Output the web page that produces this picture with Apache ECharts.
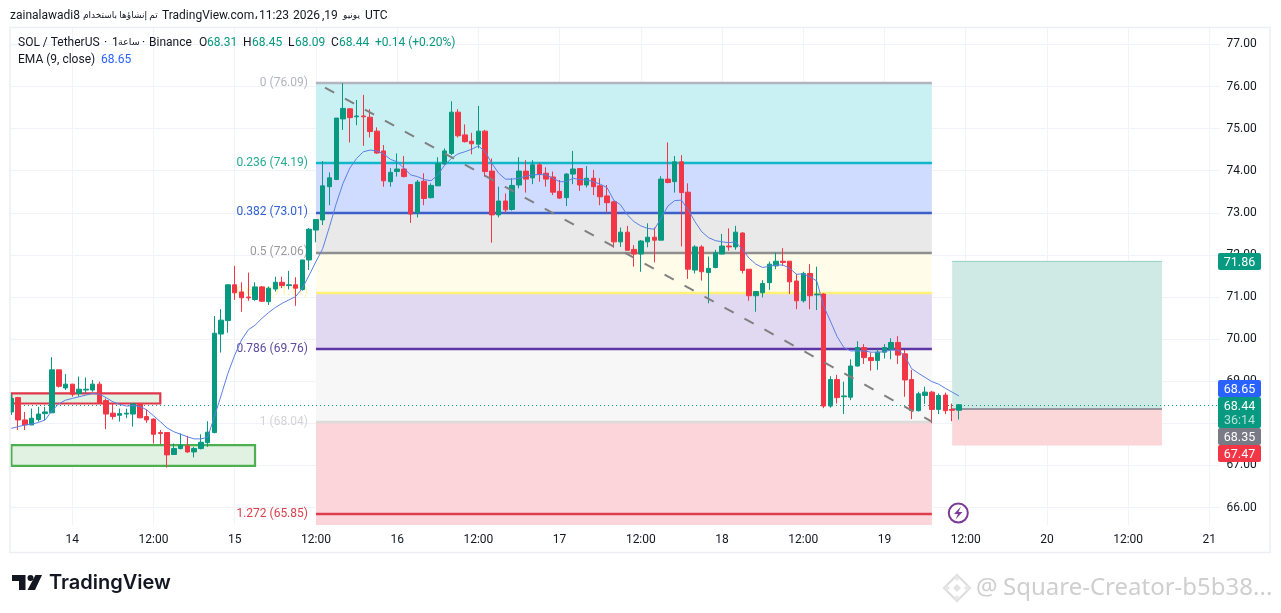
<!DOCTYPE html>
<html><head><meta charset="utf-8">
<style>html,body{margin:0;padding:0;background:#fff}#c{width:1281px;height:613px}</style>
<script src="https://cdn.jsdelivr.net/npm/echarts@6/dist/echarts.min.js"></script>
</head><body><div id="c"></div>
<script>
const opens=[68.27,68.61,68.08,67.96,68.09,68.23,68.25,69.27,68.84,68.93,
68.71,68.79,68.79,68.93,68.54,68.24,68.19,68.22,68.22,68.47,
68.16,68.10,67.78,67.78,67.26,67.40,67.46,67.32,67.40,67.54,
67.78,70.12,70.44,71.29,71.12,71.00,70.94,71.24,70.89,71.19,
71.35,71.27,71.29,71.18,71.88,72.59,72.83,73.62,73.79,75.23,
75.47,75.28,75.30,75.27,74.94,74.47,73.74,73.98,74.04,73.67,
73.01,73.75,73.36,73.64,74.16,74.41,75.39,74.85,74.70,74.63,
74.94,73.99,72.95,73.28,73.08,73.66,73.99,73.83,74.14,73.94,
73.85,73.51,73.36,73.92,74.05,73.66,73.82,73.64,73.40,73.26,
72.31,72.54,72.13,72.02,72.31,72.42,72.35,73.80,73.74,74.21,
73.49,71.64,72.19,71.58,71.70,72.02,72.21,72.19,72.52,71.66,
71.03,71.10,71.34,71.74,71.85,71.85,71.38,70.91,71.56,71.05,
71.07,68.41,69.04,68.63,68.62,69.36,69.80,69.56,69.49,69.69,
69.76,69.92,69.65,69.04,68.30,68.66,68.74,68.33,68.67,68.33,
68.31];
const closes=[68.59,68.08,67.96,68.12,68.22,68.27,69.27,68.88,68.93,68.69,
68.81,68.81,68.93,68.47,68.22,68.16,68.23,68.24,68.46,68.13,
68.08,67.74,67.76,67.25,67.40,67.48,67.32,67.40,67.55,67.79,
70.14,70.45,71.29,71.10,70.98,70.98,71.24,70.90,71.21,71.35,
71.27,71.29,71.21,71.88,72.61,72.84,73.64,73.83,75.25,75.48,
75.26,75.30,75.28,74.93,74.42,73.76,73.96,74.04,73.86,72.97,
73.73,73.34,73.65,74.17,74.47,75.39,74.83,74.69,74.64,74.94,
73.98,72.95,73.28,73.07,73.65,73.99,73.80,74.14,73.92,73.80,
73.49,73.35,73.92,74.04,73.66,73.82,73.62,73.38,73.24,72.31,
72.54,72.11,72.02,72.33,72.42,72.35,73.80,73.72,74.21,73.48,
71.66,72.19,71.60,71.68,72.05,72.21,72.19,72.54,71.63,71.03,
71.13,71.32,71.78,71.85,71.82,71.36,70.91,71.56,71.03,71.07,
68.41,69.04,68.61,68.65,69.36,69.80,69.56,69.49,69.69,69.80,
69.92,69.62,69.03,68.30,68.70,68.74,68.33,68.66,68.30,68.31,
68.44];
const highs=[68.71,68.63,68.27,68.35,68.39,68.39,69.57,69.27,69.17,68.93,
69.11,69.09,69.03,68.99,68.59,68.47,68.35,68.35,68.47,68.47,
68.33,68.12,67.84,67.78,67.52,67.76,67.70,67.44,67.74,68.05,
70.55,70.71,71.29,71.74,71.35,71.58,71.35,71.26,71.25,71.48,
71.48,71.62,71.47,71.88,72.64,72.84,74.23,73.96,75.25,76.08,
75.48,75.68,75.80,75.46,75.03,74.61,74.06,74.41,74.35,73.67,
73.78,73.94,73.70,74.32,74.53,75.65,75.46,75.10,74.90,75.54,
74.97,74.29,73.62,73.46,73.82,74.32,74.25,74.25,74.19,74.08,
73.98,73.78,73.94,74.47,74.06,74.11,74.02,73.82,73.66,73.29,
72.65,72.69,72.23,72.35,72.75,72.65,73.87,74.67,74.35,74.37,
73.70,72.23,72.23,71.96,72.12,72.50,72.63,72.69,72.54,71.66,
71.13,71.40,71.84,72.06,72.16,71.85,71.55,71.60,71.78,71.72,
71.09,69.12,69.15,68.99,69.52,69.95,69.88,69.68,69.76,69.88,
70.02,70.07,69.74,69.27,68.75,68.87,68.77,68.71,68.73,68.47,
68.45];
const lows=[68.20,67.84,67.84,67.96,68.04,68.08,68.24,68.85,68.79,68.63,
68.63,68.71,68.75,68.46,67.86,68.09,68.04,68.12,67.92,68.12,
68.01,67.52,67.51,66.95,67.25,67.38,67.30,67.19,67.38,67.44,
67.76,69.68,70.15,70.93,70.65,70.91,70.91,70.88,70.81,71.13,
71.21,71.18,70.79,71.15,71.64,72.30,72.71,73.18,73.78,74.97,
74.67,75.08,74.59,74.79,74.40,73.62,73.62,73.86,73.84,72.76,
72.89,73.18,73.34,73.64,74.14,74.37,74.79,74.67,74.39,74.53,
73.86,72.29,72.89,73.00,73.05,73.58,73.48,73.68,73.74,73.62,
73.42,73.33,73.16,73.68,73.52,73.60,73.42,73.18,73.00,72.17,
72.19,72.10,71.72,71.60,72.18,71.82,72.35,73.70,73.48,72.20,
71.43,71.56,71.39,70.85,71.68,72.02,72.10,72.12,71.56,70.91,
70.65,70.99,71.17,71.66,71.74,71.07,70.71,70.87,70.71,70.69,
68.36,68.37,68.47,68.22,68.55,69.35,69.41,69.25,69.27,69.54,
69.52,69.41,68.63,68.10,68.28,68.46,68.00,68.22,68.22,68.05,
68.09];
const ema9=[67.88,67.92,67.96,67.98,68.02,68.08,68.30,68.46,68.55,68.59,
68.63,68.67,68.71,68.69,68.61,68.51,68.45,68.41,68.42,68.40,
68.32,68.18,68.04,67.89,67.80,67.74,67.68,67.63,67.63,67.67,
68.16,68.67,69.19,69.62,69.98,70.22,70.33,70.49,70.63,70.75,
70.85,70.93,71.01,71.21,71.52,71.84,72.15,72.67,73.22,73.70,
74.06,74.29,74.45,74.49,74.47,74.40,74.27,74.21,74.06,73.90,
73.86,73.79,73.76,73.90,74.13,74.29,74.40,74.45,74.51,74.59,
74.45,74.17,73.94,73.80,73.80,73.82,73.87,73.90,73.91,73.90,
73.82,73.74,73.74,73.82,73.79,73.78,73.74,73.68,73.60,73.30,
73.19,72.95,72.79,72.69,72.63,72.61,72.87,73.16,73.29,73.30,
73.07,72.79,72.55,72.41,72.34,72.31,72.29,72.31,72.13,71.92,
71.78,71.70,71.73,71.76,71.76,71.68,71.54,71.55,71.48,71.38,
70.79,70.43,70.06,69.80,69.72,69.72,69.72,69.69,69.69,69.70,
69.74,69.74,69.60,69.30,69.19,69.09,68.99,68.93,68.83,68.74,
68.65];
const categoryCount=179, firstHour=15;
const categories=[];
for(let i=0,d=13,h=firstHour;i<categoryCount;i++){categories.push(h===0?String(d):(h===12?'12:00':''));h++;if(h===24){h=0;d++;}}
const isTick=(i)=>i>=9&&(i-9)%12===0;
const fibLevels=[
 {r:'0',v:76.09,line:'#b2b5be',text:'#b2b5be',fill:'#c9f1f3'},
 {r:'0.236',v:74.19,line:'#11b7c9',text:'#22ab94',fill:'#cfdcff'},
 {r:'0.382',v:73.01,line:'#3f5fc8',text:'#2f5fd0',fill:'#e9e9e9'},
 {r:'0.5',v:72.06,line:'#8f8f8f',text:'#9a9a9a',fill:'#fffde9'},
 {r:'0.618',v:71.11,line:'#fff176',text:'#fff59d',fill:'#e1d9f2'},
 {r:'0.786',v:69.76,line:'#5e35a5',text:'#5e4a9e',fill:'#f7f7f7'},
 {r:'1',v:68.04,line:'#dcdcdc',text:'#d4d4d4',fill:'#fbd5da'},
 {r:'1.272',v:65.85,line:'#dd3c4a',text:'#d8404c',fill:'#fbd5da'}];
const fibFrom=45, fibTo=136, plotMin=65.585, plotMax=77.39, axisMin=65, axisMax=78;
const up='#089981', down='#f23645';
const FONT='Roboto,"Noto Sans","DejaVu Sans",sans-serif';
function area(i0,v0,i1,v1,color,border,bw){return [{coord:[i0,v0],itemStyle:{color:color,borderColor:border||'transparent',borderWidth:bw||0,opacity:1}},{coord:[i1,v1]}];}
const fibAreas=[];
fibLevels.forEach((l,k)=>{const next=k<fibLevels.length-1?fibLevels[k+1].v:plotMin;fibAreas.push(area(fibFrom,l.v,fibTo,next,l.fill));});
const boxes=[area(0,68.71,22,68.47,'#e1f2e3','#e0364a',2.2),area(0,67.48,36,66.99,'#e1f2e3','#4caf50',2.2),
 area(139,71.86,170,68.35,'#cfe9e4'),area(139,68.35,170,67.47,'#fbd7da')];
const fibLines=fibLevels.map(l=>[{coord:[fibFrom,l.v],lineStyle:{color:l.line,width:2.4,type:'solid'},
 label:{show:true,position:'start',distance:8,padding:[2,0,0,0],formatter:l.r+' ('+l.v.toFixed(2)+')',color:l.text,fontSize:12,fontFamily:FONT}},{coord:[fibTo,l.v]}]);
fibLines.push([{coord:[139,68.35],lineStyle:{color:'#787b86',width:1.5,type:'solid'},label:{show:false}},{coord:[170,68.35]}]);
fibLines.push([{coord:[139,71.86],lineStyle:{color:'#9ed2c8',width:1,type:'solid'},label:{show:false}},{coord:[170,71.86]}]);
const vGrid=[];
categories.forEach((c,i)=>{if(isTick(i))vGrid.push([{coord:[i,plotMin]},{coord:[i,plotMax]}]);});
const txt=(x,y,s,fill,size,extra)=>Object.assign({type:'text',x:x,y:y+1,z:100,style:Object.assign({text:s,fill:fill,font:(size||12)+'px '+FONT,textVerticalAlign:'middle',textAlign:'left'},extra||{})});
const tag=(y,h,c,s)=>({type:'group',z:100,children:[
 {type:'rect',z:100,shape:{x:1218,y:y-h/2,width:43,height:h,r:2},style:{fill:c}},
 {type:'text',z:101,x:1239.5,y:y+1,style:{text:s,fill:'#fff',font:'12.5px '+FONT,textAlign:'center',textVerticalAlign:'middle'}}]});
const dark='#131722';
const diamond=(cx,cy,r,st)=>({type:'polygon',z:100,shape:{points:[[cx,cy-r],[cx+r,cy],[cx,cy+r],[cx-r,cy]]},style:st});
const wmS={fill:'transparent',stroke:'#dddddd',lineWidth:2};
const graphic=[
 {type:'rect',z:99,shape:{x:0,y:20,width:10,height:510},style:{fill:'#fff'}},
 {type:'rect',z:100,shape:{x:10,y:27.5,width:1260,height:525},style:{fill:'transparent',stroke:'#eceef1',lineWidth:1.5}},
 txt(10,15,'zainalawadi8',dark,12),
 txt(83,15,'تم إنشاؤها باستخدام',dark,9),
 txt(162,15,'TradingView.com،',dark,12),
 txt(259,15,'11:23',dark,12),txt(293,15,'2026',dark,12),txt(322,15,',19',dark,12),
 txt(343,15,'يونيو',dark,9),txt(365,15,'UTC',dark,12),
 txt(18,41.5,'SOL / TetherUS',dark),txt(104,41.5,'·',dark),txt(112,41.5,'1',dark),
 txt(118,41.5,'ساعة',dark,9.5),txt(142,41.5,'·',dark),txt(149,41.5,'Binance',dark),
 txt(199,41.5,'O',dark),txt(207,41.5,'68.31',up),
 txt(243,41.5,'H',dark),txt(252,41.5,'68.45',up),
 txt(288,41.5,'L',dark),txt(295,41.5,'68.09',up),
 txt(331,41.5,'C',dark),txt(339,41.5,'68.44',up),
 txt(375,41.5,'+0.14 (+0.20%)',up),
 txt(18,58.5,'EMA (9, close)',dark),txt(101,58.5,'68.65','#2962ff'),
 tag(261.5,17,up,'71.86'),
 tag(388.5,17,'#2962ff','68.65'),
 {type:'group',z:100,children:[
  {type:'rect',z:100,shape:{x:1218,y:397,width:43,height:31,r:2},style:{fill:up}},
  {type:'text',z:101,x:1239.5,y:406.5,style:{text:'68.44',fill:'#fff',font:'12.5px '+FONT,textAlign:'center',textVerticalAlign:'middle'}},
  {type:'text',z:101,x:1239.5,y:421,style:{text:'36:14',fill:'#b5e0d8',font:'12.5px '+FONT,textAlign:'center',textVerticalAlign:'middle'}}]},
 tag(436.5,17,'#787b86','68.35'),
 tag(453.5,17,down,'67.47'),
 {type:'circle',z:100,shape:{cx:958.3,cy:513,r:9.5},style:{fill:'#fff',stroke:'#7b3a96',lineWidth:2}},
 {type:'polygon',z:101,shape:{points:[[961,506.5],[954,514],[958,514],[955.5,519.5],[962.5,512],[958.5,512]]},style:{fill:'#7b3a96'}},
 {type:'polygon',z:100,shape:{points:[[12,575],[25.5,575],[25.5,590],[19,590],[19,581],[12,581]]},style:{fill:'#131722'}},
 {type:'circle',z:100,shape:{cx:30.5,cy:578,r:3},style:{fill:'#131722'}},
 {type:'polygon',z:100,shape:{points:[[35.5,575],[42,575],[35,590],[27.5,590]]},style:{fill:'#131722'}},
 {type:'text',z:100,x:49,y:583,style:{text:'TradingView',fill:'#131722',font:'600 20px Inter,'+FONT,textVerticalAlign:'middle'}},
 diamond(957,588,13,wmS),diamond(957,588,4,{fill:'#e2e2e2'}),
 diamond(957,578,3,{fill:'#e8e8e8'}),diamond(947,588,3,{fill:'#e8e8e8'}),diamond(967,588,3,{fill:'#e8e8e8'}),diamond(957,598,3,{fill:'#e8e8e8'}),
 txt(976,587,'@','#cfcfcf',24,{font:'24px "Noto Sans"'}),
 txt(1003,587,'Square-Creator-b5b38...','#cfcfcf',24,{font:'24px "Noto Sans"'})
];
const option={
 animation:false,backgroundColor:'#fff',graphic:graphic,
 grid:{left:8,top:2.3,width:1211.5,height:547.3,containLabel:false},
 xAxis:{type:'category',data:categories,boundaryGap:true,
  axisLine:{show:false},axisTick:{show:false},
  axisLabel:{inside:true,interval:(i)=>isTick(i),color:dark,fontSize:12,fontFamily:FONT,margin:4,hideOverlap:false},
  splitLine:{show:false}},
 yAxis:{type:'value',position:'right',min:axisMin,max:axisMax,interval:1,
  axisLine:{show:false},axisTick:{show:false},
  axisLabel:{margin:7,padding:[3,0,0,0],color:dark,fontSize:12,fontFamily:FONT,
   formatter:(v)=>(v===axisMin||v===axisMax)?'':v.toFixed(2)},
  splitLine:{show:true,showMinLine:false,showMaxLine:false,lineStyle:{color:'#f0f3fa',width:1}}},
 series:[
  {type:'line',name:'grid',data:[],z:0,silent:true,
   markLine:{silent:true,z:0,symbol:'none',label:{show:false},lineStyle:{color:'#f0f3fa',width:1,type:'solid'},data:vGrid}},
  {type:'line',name:'fib',data:[],z:1,silent:true,
   markArea:{silent:true,z:1,data:fibAreas.concat(boxes)},
   markLine:{silent:true,z:2,symbol:'none',data:fibLines}},
  {type:'candlestick',name:'SOL',z:5,barWidth:5,
   data:opens.map((o,i)=>[o,closes[i],lows[i],highs[i]]),
   itemStyle:{color:up,color0:down,borderColor:up,borderColor0:down,borderWidth:1},
   markLine:{silent:true,z:4,symbol:'none',label:{show:false},
    lineStyle:{color:up,type:[1,3],width:1},data:[{yAxis:68.44}]}},
  {type:'line',name:'EMA',data:ema9,z:6,showSymbol:false,symbol:'none',smooth:false,
   lineStyle:{color:'#5b7fe6',width:1},
   markLine:{silent:true,z:7,symbol:'none',label:{show:false},
    data:[[{coord:[fibFrom,76.09],lineStyle:{color:'#808080',width:2,type:[10.5,12.3],dashOffset:12.5}},{coord:[fibTo,68.04]}]]}}
 ]};
echarts.init(document.getElementById('c'),null,{renderer:'canvas'}).setOption(option);
</script></body></html>
